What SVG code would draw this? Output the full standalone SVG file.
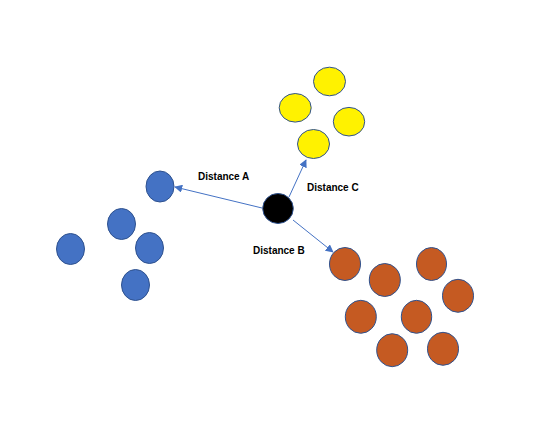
<svg xmlns="http://www.w3.org/2000/svg" width="544" height="429" viewBox="0 0 544 429">
  <defs>
    <style>
      .blue { fill: #4472C4; stroke: #2F528F; stroke-width: 1; }
      .yellow { fill: #FFF200; stroke: #2F528F; stroke-width: 1; }
      .orange { fill: #C55A22; stroke: #2F528F; stroke-width: 1; }
      .center { fill: #000000; stroke: #2F528F; stroke-width: 1; }
      .conn { stroke: #4472C4; stroke-width: 1; fill: none; marker-end: url(#arrow); }
      .label { font-family: "Liberation Sans", Arial, sans-serif; font-weight: bold; font-size: 10px; fill: #000000; }
    </style>
    <marker id="arrow" viewBox="0 0 10 10" refX="9" refY="5" markerWidth="8" markerHeight="8" markerUnits="userSpaceOnUse" orient="auto">
      <path d="M0,0 L10,5 L0,10 z" fill="#4472C4"/>
    </marker>
  </defs>
  <rect width="544" height="429" fill="#FFFFFF"/>

  <g id="connectors">
    <line class="conn" x1="262" y1="208" x2="175" y2="187"/>
    <line class="conn" x1="289" y1="197" x2="306" y2="160"/>
    <line class="conn" x1="293" y1="220" x2="333" y2="252"/>
  </g>

  <g id="center">
    <ellipse class="center" cx="278" cy="208.5" rx="15.3" ry="15"/>
  </g>

  <g id="blue-cluster">
    <ellipse class="blue" cx="160" cy="186.5" rx="14" ry="15.5"/>
    <ellipse class="blue" cx="121.5" cy="224" rx="14" ry="15.5"/>
    <ellipse class="blue" cx="149.5" cy="248" rx="14" ry="15.5"/>
    <ellipse class="blue" cx="70.5" cy="249" rx="14" ry="15.5"/>
    <ellipse class="blue" cx="135.5" cy="285" rx="14" ry="15.5"/>
  </g>

  <g id="yellow-cluster">
    <ellipse class="yellow" cx="329.5" cy="81.5" rx="16" ry="14.3"/>
    <ellipse class="yellow" cx="295.2" cy="107.8" rx="16" ry="14.3"/>
    <ellipse class="yellow" cx="349" cy="121.7" rx="15.7" ry="14.3"/>
    <ellipse class="yellow" cx="313.5" cy="144" rx="16" ry="14.5"/>
  </g>

  <g id="orange-cluster">
    <ellipse class="orange" cx="345" cy="264" rx="15.5" ry="16.5"/>
    <ellipse class="orange" cx="384.8" cy="280" rx="15.5" ry="16.5"/>
    <ellipse class="orange" cx="431.5" cy="264" rx="15" ry="16.5"/>
    <ellipse class="orange" cx="458" cy="295.8" rx="15.5" ry="16.5"/>
    <ellipse class="orange" cx="360.8" cy="316.8" rx="15.5" ry="16.5"/>
    <ellipse class="orange" cx="416.5" cy="316.8" rx="15.2" ry="16.5"/>
    <ellipse class="orange" cx="392.2" cy="350.2" rx="15.5" ry="16.5"/>
    <ellipse class="orange" cx="443" cy="348.8" rx="15.5" ry="16.5"/>
  </g>

  <g id="labels">
    <text class="label" x="198" y="180">Distance A</text>
    <text class="label" x="307" y="191">Distance C</text>
    <text class="label" x="253" y="254">Distance B</text>
  </g>
</svg>
